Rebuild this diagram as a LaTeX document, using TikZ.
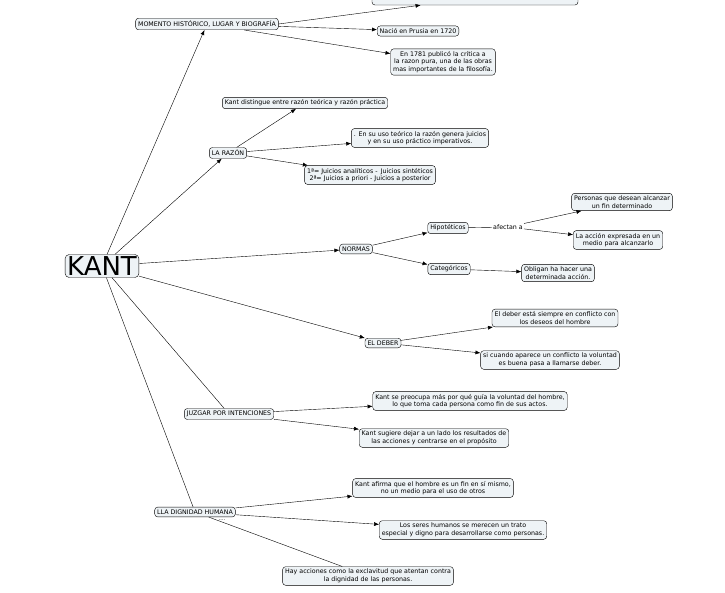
\documentclass[tikz,border=0pt]{standalone}
\usepackage{fontspec}
\setmainfont{DejaVu Sans}
\usetikzlibrary{arrows.meta}
\definecolor{boxfill}{HTML}{EEF3F6}
\tikzset{
  concept/.style={draw, rounded corners=3pt, fill=boxfill, font=\fontsize{6.3}{7.5}\selectfont, align=center, inner sep=2.5pt},
  link/.style={-{Latex[length=5pt,width=4pt]}},
}
\begin{document}
\begin{tikzpicture}[x=1pt,y=-1pt]
\useasboundingbox (0,0) rectangle (725,592);
% main node
\node[draw, rounded corners=4pt, fill=boxfill, font=\fontsize{26}{28}\selectfont, inner sep=2pt] (kant) at (102,266) {KANT};

% first level
\node[concept] (momento) at (207,24) {MOMENTO HISTÓRICO, LUGAR Y BIOGRAFÍA};
\node[concept] (razon) at (228,153) {LA RAZÓN};
\node[concept] (normas) at (356,249) {NORMAS};
\node[concept] (deber) at (383,343) {EL DEBER};
\node[concept] (juzgar) at (229,414) {JUZGAR POR INTENCIONES};
\node[concept] (dignidad) at (195,512) {LLA DIGNIDAD HUMANA};
\node[font=\tiny, inner sep=0pt] (dots) at (222,520) {....};

% details
\node[concept, minimum width=206pt, minimum height=14pt] (top) at (475,-2) {};
\node[concept] (prusia) at (418,31) {Nació en Prusia en 1720};
\node[concept] (critica) at (443,62) {En 1781 publicó la crítica a\\la razon pura, una de las obras\\mas importantes de la filosofía.};
\node[concept] (distingue) at (305,103) {Kant distingue entre razón teórica y razón práctica};
\node[concept] (uso) at (420,138) {. En su uso teórico la razón genera juicios\\y en su uso práctico imperativos.};
\node[concept] (juicios) at (370,175) {1ª= Juicios analíticos -\enspace Juicios sintéticos\\2ª= Juicios a priori - Juicios a posterior};
\node[concept] (hipo) at (448,228) {Hipotéticos};
\node[font=\fontsize{6.3}{7.5}\selectfont, inner sep=1pt] (afectan) at (508,227) {afectan a};
\node[concept] (personas) at (622,202) {Personas que desean alcanzar\\un fin determinado};
\node[concept] (accion) at (618,240) {La acción expresada en un\\medio para alcanzarlo};
\node[concept] (cate) at (449,269) {Categóricos};
\node[concept] (obligan) at (558,273) {Obligan ha hacer una\\determinada acción.};
\node[concept] (conflicto) at (555,318) {El deber está siempre en conflicto con\\los deseos del hombre};
\node[concept] (cuando) at (550,360) {si cuando aparece un conflicto la voluntad\\es buena pasa a llamarse deber.};
\node[concept] (preocupa) at (470,401) {Kant se preocupa más por qué guía la voluntad del hombre,\\lo que toma cada persona como fin de sus actos.};
\node[concept] (sugiere) at (434,438) {Kant sugiere dejar a un lado los resultados de\\las acciones y centrarse en el propósito};
\node[concept] (afirma) at (433,488) {Kant afirma que el hombre es un fin en sí mismo,\\no un medio para el uso de otros};
\node[concept] (seres) at (463,530) {Los seres humanos se merecen un trato\\especial y digno para desarrollarse como personas.};
\node[concept] (hay) at (368,576) {Hay acciones como la exclavitud que atentan contra\\la dignidad de las personas.};

% connectors from KANT
\draw[link] (kant) -- (momento);
\draw[link] (kant) -- (razon);
\draw[link] (kant) -- (normas);
\draw[link] (kant) -- (deber);
\draw (kant) -- (juzgar);
\draw (kant) -- (dignidad);

% connectors to details
\draw[link] (momento.east) -- (top);
\draw[link] (momento) -- (prusia);
\draw[link] (momento) -- (critica);
\draw[link] (razon) -- (distingue);
\draw[link] (razon) -- (uso);
\draw[link] (razon) -- (juicios);
\draw[link] (normas) -- (hipo);
\draw[link] (normas) -- (cate);
\draw (hipo) -- (afectan);
\draw[link] (afectan) -- (personas);
\draw[link] (afectan) -- (accion);
\draw[link] (cate) -- (obligan);
\draw[link] (deber) -- (conflicto);
\draw[link] (deber) -- (cuando);
\draw[link] (juzgar) -- (preocupa);
\draw[link] (juzgar) -- (sugiere);
\draw[link] (dignidad) -- (afirma);
\draw[link] (dignidad) -- (seres);
\draw (dignidad) -- (hay);
\end{tikzpicture}
\end{document}
